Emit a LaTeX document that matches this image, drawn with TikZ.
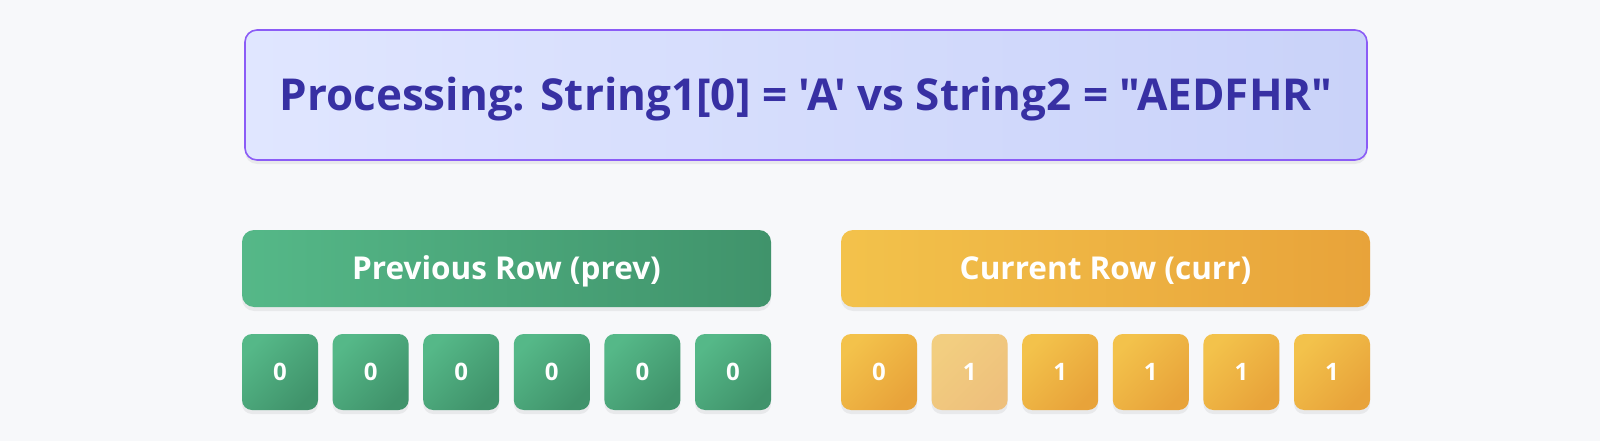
\documentclass[tikz,border=0pt]{standalone}
\usepackage{fontspec}
\setmainfont{Open Sans}[Ligatures=TeXOff]
\usepackage{xcolor}
\usetikzlibrary{shadows}

\definecolor{pagebg}{HTML}{F7F8FA}
\definecolor{titleleft}{HTML}{E0E6FF}
\definecolor{titleright}{HTML}{C9D2F9}
\definecolor{titleline}{HTML}{8B5CF6}
\definecolor{titletext}{HTML}{3730A3}
\definecolor{greenlight}{HTML}{55B888}
\definecolor{greendark}{HTML}{40936B}
\definecolor{orangelight}{HTML}{F3C24B}
\definecolor{orangedark}{HTML}{E8A33A}
\definecolor{palelight}{HTML}{F2CE80}
\definecolor{paledark}{HTML}{EEC07C}

\tikzset{
  softshadow/.style={drop shadow={shadow xshift=0pt, shadow yshift=-4pt, opacity=0.06, fill=black}},
  titlebox/.style={rounded corners=12pt, draw=titleline, line width=1.6pt, left color=titleleft, right color=titleright, softshadow, minimum width=1122pt, minimum height=130pt, inner sep=0pt, text=titletext, text height=31.4pt, text depth=0pt, font=\fontsize{44}{52}\selectfont\bfseries},
  prevhead/.style={rounded corners=12pt, left color=greenlight, right color=greendark, softshadow, minimum width=529pt, minimum height=77pt, inner sep=0pt, text=white, text height=22.5pt, text depth=0pt, font=\fontsize{31.5}{37}\selectfont\bfseries},
  currhead/.style={prevhead, left color=orangelight, right color=orangedark},
  prevcell/.style={rounded corners=10pt, shading=axis, top color=greenlight, bottom color=greendark, shading angle=45, softshadow, minimum width=76pt, minimum height=76pt, inner sep=0pt, text=white, text height=17.1pt, text depth=0pt, font=\fontsize{24}{29}\selectfont\bfseries},
  currcell/.style={prevcell, top color=orangelight, bottom color=orangedark, shading angle=45},
  palecell/.style={prevcell, top color=palelight, bottom color=paledark, shading angle=45}
}

\begin{document}
\begin{tikzpicture}[x=1pt, y=-1pt]
\fill[pagebg] (0,0) rectangle (1600,441);
\useasboundingbox (0,0) rectangle (1600,441);

\node[titlebox] (title) at (806,95) {Processing: String1[0] = 'A' vs String2 = "AEDFHR"};

\node[prevhead] (prev) at (506.5,268.5) {Previous Row (prev)};
\node[currhead] (curr) at (1105.5,268.5) {Current Row (curr)};

% prev row cells
\node[prevcell] (p0) at (280,372) {0};
\node[prevcell] (p1) at (370.6,372) {0};
\node[prevcell] (p2) at (461.2,372) {0};
\node[prevcell] (p3) at (551.8,372) {0};
\node[prevcell] (p4) at (642.4,372) {0};
\node[prevcell] (p5) at (733,372) {0};

% curr row cells
\node[currcell] (c0) at (879,372) {0};
\node[palecell] (c1) at (969.6,372) {1};
\node[currcell] (c2) at (1060.2,372) {1};
\node[currcell] (c3) at (1150.8,372) {1};
\node[currcell] (c4) at (1241.4,372) {1};
\node[currcell] (c5) at (1332,372) {1};
\end{tikzpicture}
\end{document}
